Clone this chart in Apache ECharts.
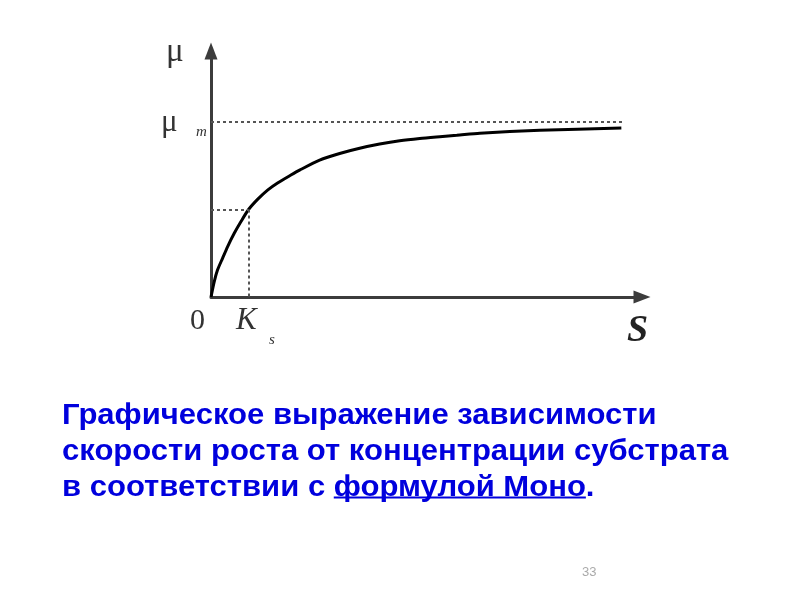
<!DOCTYPE html>
<html><head><meta charset="utf-8">
<script src="https://cdn.jsdelivr.net/npm/echarts@6/dist/echarts.min.js"></script>
<style>html,body{margin:0;padding:0;background:#fff}#c{width:800px;height:600px}</style>
</head><body><div id="c"></div>
<script>
// Substrate concentration S (in units of Ks) and specific growth rate mu (in units of mu_m)
const sValues  = [0, 0.085, 0.173, 0.307, 0.44, 0.619, 0.795, 1.0, 1.24, 1.507, 1.773, 2.128, 2.36, 2.893, 3.427, 3.96, 4.493, 5.027, 5.56, 6.093, 6.547, 7.16, 8.76, 10.93];
const muValues = [0, 0.087, 0.154, 0.221, 0.287, 0.364, 0.43, 0.5, 0.558, 0.611, 0.652, 0.697, 0.725, 0.782, 0.82, 0.85, 0.874, 0.893, 0.906, 0.916, 0.924, 0.936, 0.953, 0.966];
const muMax = 1;
const ks = 1;
const sEnd = 10.95;
const captionLines = ['Графическое выражение зависимости', 'скорости роста от концентрации субстрата', 'в соответствии с '];
const captionLink = 'формулой Моно';
const pageNumber = '33';

const chart = echarts.init(document.getElementById('c'), null, {renderer: 'canvas'});
const curve = sValues.map((s, i) => [s, muValues[i]]);
const serif = '"Liberation Serif", "DejaVu Serif", serif';
const capFont = 'bold 29px "Liberation Sans", Arial, sans-serif';
const capScale = 1.07;
const capColor = '#0000dd';

const ctx = document.createElement('canvas').getContext('2d');
ctx.font = capFont;
const prefixW = ctx.measureText(captionLines[2]).width * capScale;
const linkW = ctx.measureText(captionLink).width * capScale;
const capX = 62;
const lineTops = [401, 437, 473];

function capText(text, x, y) {
  return {type: 'text', x: x, y: y, scaleX: capScale,
    style: {text: text, font: capFont, fill: capColor}};
}

const axisLineStyle = {
  show: true, symbol: ['none', 'triangle'], symbolSize: [13, 17], symbolOffset: [0, 0],
  lineStyle: {color: '#3c3c3c', width: 3}
};

chart.setOption({
  animation: false,
  grid: {left: 211, right: 158, top: 51, bottom: 303},
  xAxis: {
    type: 'value', min: 0, max: 11.48,
    axisLine: axisLineStyle,
    axisTick: {show: false}, axisLabel: {show: false}, splitLine: {show: false}
  },
  yAxis: {
    type: 'value', min: 0, max: 1.406,
    axisLine: axisLineStyle,
    axisTick: {show: false}, axisLabel: {show: false}, splitLine: {show: false}
  },
  series: [{
    type: 'line', data: curve, showSymbol: false, smooth: 0.25,
    lineStyle: {color: '#000', width: 3}, z: 3,
    markLine: {
      silent: true, symbol: ['none', 'none'], label: {show: false},
      lineStyle: {color: '#555', width: 2, type: [3, 3]},
      data: [
        [{coord: [0, muMax]}, {coord: [sEnd, muMax]}],
        [{coord: [0, muMax / 2]}, {coord: [ks, muMax / 2]}],
        [{coord: [ks, muMax / 2]}, {coord: [ks, 0]}]
      ]
    }
  }],
  graphic: [
    {type: 'text', left: 166, top: 36, style: {text: 'μ', font: '33px ' + serif, fill: '#333'}},
    {type: 'text', left: 161, top: 107, style: {text: 'μ', font: '31px ' + serif, fill: '#333'}},
    {type: 'text', left: 196, top: 125, style: {text: 'm', font: 'italic 15px ' + serif, fill: '#333'}},
    {type: 'text', left: 190, top: 306, style: {text: '0', font: '30px ' + serif, fill: '#333'}},
    {type: 'text', left: 236, top: 305, style: {text: 'K', font: 'italic 31px ' + serif, fill: '#333'}},
    {type: 'text', left: 269, top: 333, style: {text: 's', font: 'italic 15px ' + serif, fill: '#333'}},
    {type: 'text', left: 627, top: 312, style: {text: 'S', font: 'italic bold 38px ' + serif, fill: '#222'}},
    capText(captionLines[0], capX, lineTops[0]),
    capText(captionLines[1], capX, lineTops[1]),
    capText(captionLines[2], capX, lineTops[2]),
    capText(captionLink, capX + prefixW, lineTops[2]),
    capText('.', capX + prefixW + linkW, lineTops[2]),
    {type: 'line', shape: {x1: capX + prefixW, y1: 497.5, x2: capX + prefixW + linkW, y2: 497.5}, style: {stroke: capColor, lineWidth: 2}},
    {type: 'text', left: 582, top: 566, style: {text: pageNumber, font: '13px "Liberation Sans", Arial, sans-serif', fill: '#aaa'}}
  ]
});
</script></body></html>
